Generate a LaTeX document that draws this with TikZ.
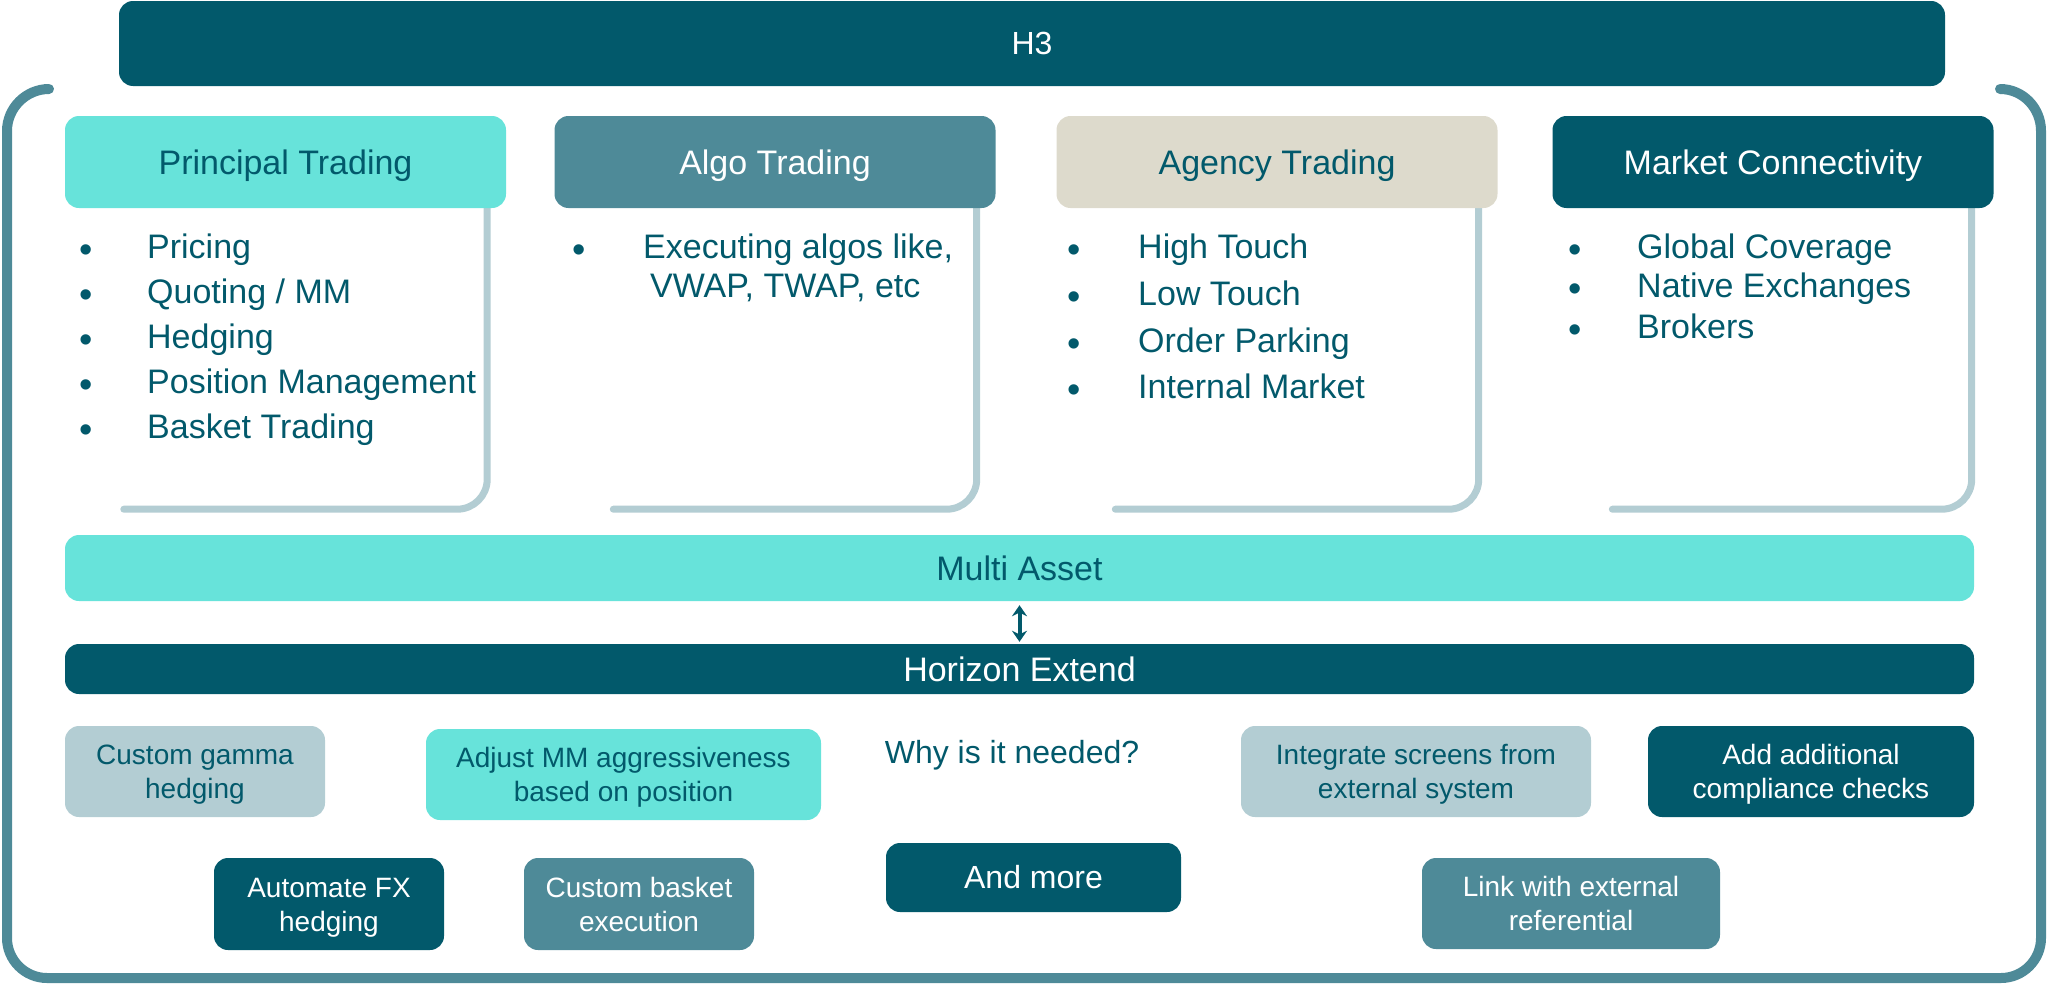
\documentclass[tikz,border=0pt]{standalone}
\usepackage{fontspec}
\setmainfont{Liberation Sans}
\usetikzlibrary{arrows.meta,backgrounds}
\definecolor{dk}{HTML}{02596B}
\definecolor{tq}{HTML}{67E3DA}
\definecolor{md}{HTML}{4E8A98}
\definecolor{lt}{HTML}{B3CDD3}
\definecolor{bg}{HTML}{DDDACC}
\newcommand\capline[1]{\raisebox{0pt}[0.716em][0pt]{#1}}
\newcommand\bulmark[1]{\makebox[#1][l]{\raisebox{-4pt}{\fontsize{38}{38}\selectfont •}}}
\begin{document}
\begin{tikzpicture}[x=1pt,y=-1pt,
  bar/.style={rounded corners=14pt, inner sep=0pt, font=\fontsize{34}{40}\selectfont},
  hdr/.style={rounded corners=14pt, inner sep=0pt, minimum width=441pt, minimum height=92pt, font=\fontsize{34}{40}\selectfont},
  colbr/.style={draw=lt, line width=7pt, line cap=round, rounded corners=30pt},
  frame/.style={draw=md, line width=10pt, line cap=round},
  item/.style={anchor=base west, inner sep=0pt, text=dk, font=\fontsize{34}{40}\selectfont},
  bx/.style={rounded corners=14pt, inner sep=0pt, align=center, minimum height=91pt, font=\fontsize{28}{34}\selectfont},
  dbl/.style={draw=dk, line width=4pt, {Stealth[length=11pt,width=15pt]}-{Stealth[length=11pt,width=15pt]}, shorten <=4pt, shorten >=2pt}
]
\useasboundingbox (0,0) rectangle (2048,985);

% outer frame
\draw[frame] (49,89) .. controls (26,89) and (7,108) .. (7,131) -- (7,938)
  .. controls (7,960) and (25,978) .. (47,978) -- (2001,978)
  .. controls (2023,978) and (2041,960) .. (2041,938) -- (2041,131)
  .. controls (2041,108) and (2023,89) .. (2000,89);

% top bar
\node[bar, fill=dk, text=white, minimum width=1826pt, minimum height=85pt, font=\fontsize{32}{38}\selectfont] (h3) at (1032,43.5) {\capline{H3}};

% headers
\node[hdr, fill=tq, text=dk] (ph) at (285.5,162) {\capline{Principal Trading}};
\node[hdr, fill=md, text=white] (ah) at (775,162) {\capline{Algo Trading}};
\node[hdr, fill=bg, text=dk] (gh) at (1277,162) {\capline{Agency Trading}};
\node[hdr, fill=dk, text=white] (mh) at (1773,162) {\capline{Market Connectivity}};

\begin{pgfonlayer}{background}
\draw[colbr] ([xshift=-19pt]ph.south east) |- ([xshift=59pt,yshift=-301pt]ph.south west);
\draw[colbr] ([xshift=-19pt]ah.south east) |- ([xshift=59pt,yshift=-301pt]ah.south west);
\draw[colbr] ([xshift=-19pt]gh.south east) |- ([xshift=59pt,yshift=-301pt]gh.south west);
\draw[colbr] ([xshift=-22pt]mh.south east) |- ([xshift=60pt,yshift=-301pt]mh.south west);
\end{pgfonlayer}

% principal items
\node[item] (p1) at (79,258) {\bulmark{68pt}Pricing};
\node[item] (p2) at (79,303) {\bulmark{68pt}Quoting / MM};
\node[item] (p3) at (79,348) {\bulmark{68pt}Hedging};
\node[item] (p4) at (79,393) {\bulmark{68pt}Position Management};
\node[item] (p5) at (79,438) {\bulmark{68pt}Basket Trading};

% algo items
\node[item] (a1) at (572,258) {\bulmark{71pt}Executing algos like,};
\node[item] (a2) at (650,297) {VWAP, TWAP, etc};

% agency items
\node[item] (g1) at (1067,258) {\bulmark{71pt}High Touch};
\node[item] (g2) at (1067,305) {\bulmark{71pt}Low Touch};
\node[item] (g3) at (1067,352) {\bulmark{71pt}Order Parking};
\node[item] (g4) at (1067,398) {\bulmark{71pt}Internal Market};

% market items
\node[item] (m1) at (1568,258) {\bulmark{69pt}Global Coverage};
\node[item] (m2) at (1568,297) {\bulmark{69pt}Native Exchanges};
\node[item] (m3) at (1568,338) {\bulmark{69pt}Brokers};

% bars
\node[bar, fill=tq, text=dk, minimum width=1909pt, minimum height=66pt] (ma) at (1019.5,568) {\capline{Multi Asset}};
\node[bar, fill=dk, text=white, minimum width=1909pt, minimum height=50pt] (he) at (1019.5,669) {\capline{Horizon Extend}};
\draw[dbl] (ma.south) -- (he.north);

% bottom boxes
\node[bx, fill=lt, text=dk, minimum width=260pt] (gam) at (195,771.5) {\capline{Custom gamma}\\\capline{hedging}};
\node[bx, fill=tq, text=dk, minimum width=395pt] (adj) at (623.5,774.5) {\capline{Adjust MM aggressiveness}\\\capline{based on position}};
\node[inner sep=0pt, text=dk, font=\fontsize{32}{38}\selectfont] (why) at (1012,752.5) {\capline{Why is it needed?}};
\node[bx, fill=lt, text=dk, minimum width=350pt] (int) at (1416,771.5) {\capline{Integrate screens from}\\\capline{external system}};
\node[bx, fill=dk, text=white, minimum width=326pt] (cmp) at (1811,771.5) {\capline{Add additional}\\\capline{compliance checks}};
\node[bx, fill=dk, text=white, minimum width=230pt, minimum height=92pt] (afx) at (329,904) {\capline{Automate FX}\\\capline{hedging}};
\node[bx, fill=md, text=white, minimum width=230pt, minimum height=92pt] (bsk) at (639,904) {\capline{Custom basket}\\\capline{execution}};
\node[bx, fill=dk, text=white, minimum width=295pt, minimum height=69pt, font=\fontsize{32}{38}\selectfont] (more) at (1033.5,877.5) {\capline{And more}};
\node[bx, fill=md, text=white, minimum width=298pt] (lnk) at (1571,903.5) {\capline{Link with external}\\\capline{referential}};
\end{tikzpicture}
\end{document}
